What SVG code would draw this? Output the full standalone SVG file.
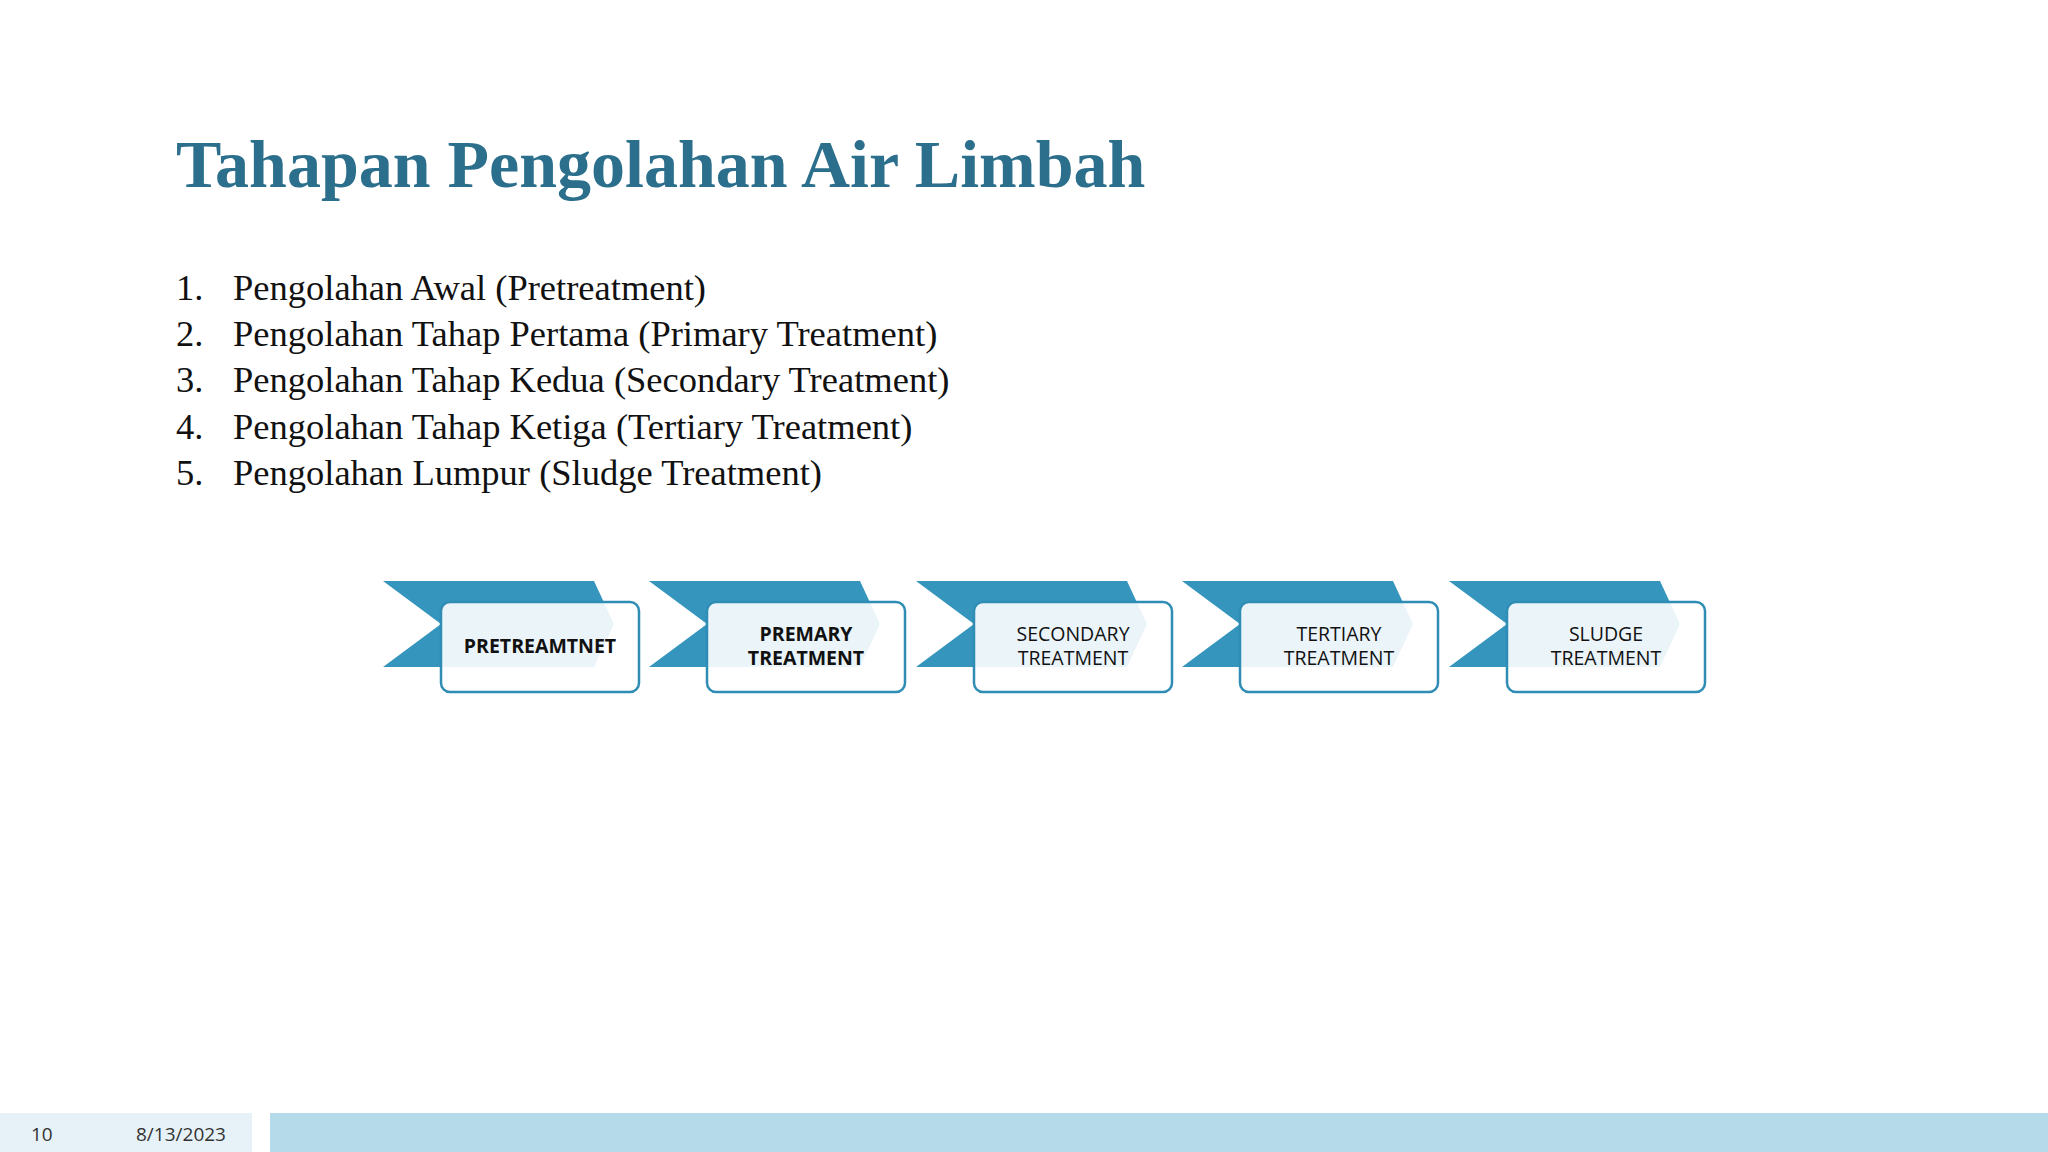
<svg xmlns="http://www.w3.org/2000/svg" width="2048" height="1152" viewBox="0 0 2048 1152">
<defs>
<style>
.chev{fill:#3595bd}
.box{fill:#ffffff;fill-opacity:0.9;stroke:#2f8db5;stroke-width:2.5}
.lbl{font-family:"Open Sans",sans-serif;font-size:19.5px;fill:#111;text-anchor:middle}
.b{font-weight:bold}
.li{font-family:"Liberation Serif",serif;font-size:36.5px;fill:#111}
.ft{font-family:"Open Sans",sans-serif;font-size:19px;fill:#333}
</style>
<g id="chevshape"><path id="cv" d="M0,0 H211 L231,43 L211,86 H0 L58,43 Z"/></g>
</defs>
<rect width="2048" height="1152" fill="#ffffff"/>
<text x="176" y="187" font-family="Liberation Serif,serif" font-weight="bold" font-size="68" fill="#2b6f8c">Tahapan Pengolahan Air Limbah</text>
<g>
<text class="li" x="176" y="300">1.</text><text class="li" x="233" y="300">Pengolahan Awal (Pretreatment)</text>
<text class="li" x="176" y="346">2.</text><text class="li" x="233" y="346">Pengolahan Tahap Pertama (Primary Treatment)</text>
<text class="li" x="176" y="392">3.</text><text class="li" x="233" y="392">Pengolahan Tahap Kedua (Secondary Treatment)</text>
<text class="li" x="176" y="439">4.</text><text class="li" x="233" y="439">Pengolahan Tahap Ketiga (Tertiary Treatment)</text>
<text class="li" x="176" y="485">5.</text><text class="li" x="233" y="485">Pengolahan Lumpur (Sludge Treatment)</text>
</g>
<g id="n1"><use href="#cv" class="chev" x="383" y="581"/><rect class="box" x="441" y="602" width="198" height="90" rx="9"/><text class="lbl b" x="540" y="653">PRETREAMTNET</text></g>
<g id="n2"><use href="#cv" class="chev" x="649" y="581"/><rect class="box" x="707" y="602" width="198" height="90" rx="9"/><text class="lbl b" x="806" y="641">PREMARY</text><text class="lbl b" x="806" y="665">TREATMENT</text></g>
<g id="n3"><use href="#cv" class="chev" x="916" y="581"/><rect class="box" x="974" y="602" width="198" height="90" rx="9"/><text class="lbl" x="1073" y="641">SECONDARY</text><text class="lbl" x="1073" y="665">TREATMENT</text></g>
<g id="n4"><use href="#cv" class="chev" x="1182" y="581"/><rect class="box" x="1240" y="602" width="198" height="90" rx="9"/><text class="lbl" x="1339" y="641">TERTIARY</text><text class="lbl" x="1339" y="665">TREATMENT</text></g>
<g id="n5"><use href="#cv" class="chev" x="1449" y="581"/><rect class="box" x="1507" y="602" width="198" height="90" rx="9"/><text class="lbl" x="1606" y="641">SLUDGE</text><text class="lbl" x="1606" y="665">TREATMENT</text></g>
<g id="connectors"></g>
<rect x="0" y="1113" width="252" height="39" fill="#e6f2f7"/>
<rect x="270" y="1113" width="1778" height="39" fill="#b5dbea"/>
<text class="ft" x="31" y="1141">10</text>
<text class="ft" x="136" y="1141">8/13/2023</text>
</svg>
